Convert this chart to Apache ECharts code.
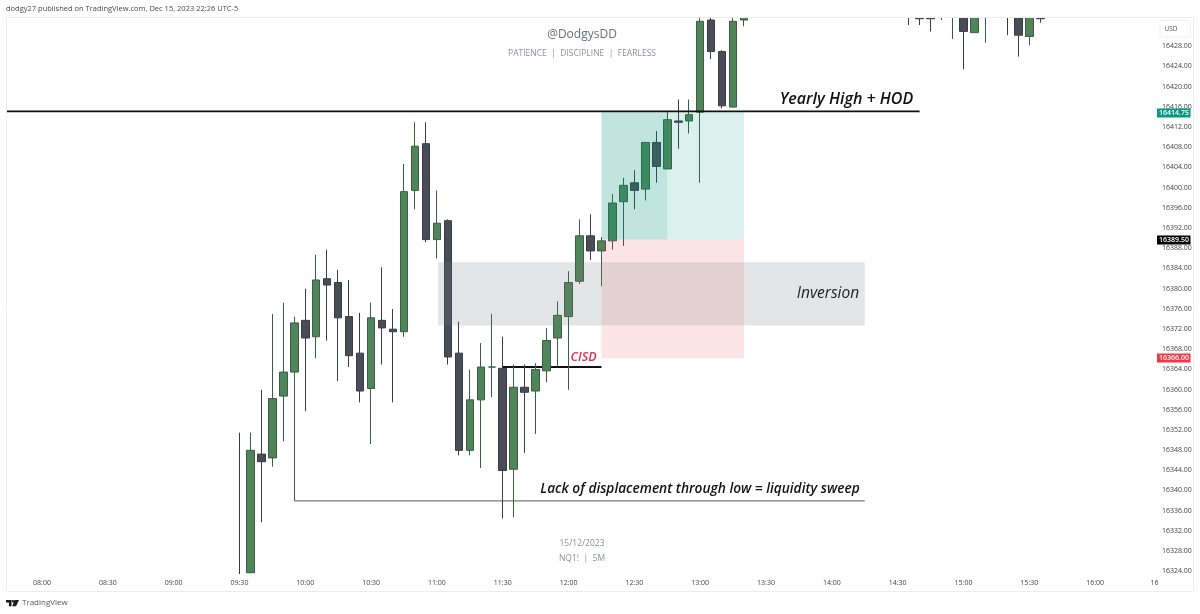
<!DOCTYPE html>
<html><head><meta charset="utf-8">
<script src="https://cdn.jsdelivr.net/npm/echarts@6/dist/echarts.min.js"></script>
<style>html,body{margin:0;padding:0;background:#fff}#c{width:1200px;height:614px}</style></head>
<body><div id="c"></div>
<script>
// Bars: first visible bar is 09:30 (index 21), null = bar off the top of the pane
const firstBar = 21;
const opens = [16321,16323.5,16347,16346.25,16358.5,16363.25,16373.5,16370.25,16381.75,16381,16374.25,16367,16360,16373.5,16371.75,16371.25,16399.25,16408.5,16389.5,16393.25,16367,16347.75,16357.75,16364.25,16364,16344,16360.25,16359.5,16363.5,16370,16374.25,16381.25,16390.25,16387.25,16389.25,16397,16400.75,16399.5,16408.75,16403.5,16413,16413,16414.75,16433,16426.75,16415.75,16433,null,null,null,null,null,null,null,null,null,null,null,null,null,null,16437,16433.5,16433.5,16437,16437,16437,16430.5,16437,null,16437,16437,16429.75,16433.5];
const closes = [16321,16347.75,16345.5,16358,16363.25,16373,16370,16381.5,16380.5,16374,16366.5,16359.5,16374,16372,16371.25,16399,16408,16389.5,16392.75,16366.25,16347.75,16357.75,16364.25,16364.25,16343.75,16360.25,16359.25,16363.75,16369.5,16374.5,16381,16390.25,16387.25,16389.25,16396.75,16400.25,16399.25,16408.75,16404,16413.25,16412.75,16414.25,16432.75,16426.75,16416,16432.75,16435,null,null,null,null,null,null,null,null,null,null,null,null,null,null,16437,16433.25,16433.25,16437,16437,16430.75,16437,16437,null,16437,16430,16437,16433.25];
const lows = [16321,16323.5,16333.5,16344.5,16349.5,16337.75,16355.5,16366,16369.5,16361.5,16364.25,16357.25,16349,16364.75,16357.25,16370.25,16395.5,16389,16385.75,16364.75,16346.75,16346.75,16344.25,16358.25,16334.25,16334.5,16347.25,16351,16361.25,16364.5,16359.75,16380.75,16385.5,16380.25,16387.5,16388.25,16395.5,16397.25,16400.75,16403.5,16407.5,16410.5,16400.75,16425.25,16415.5,16415.75,16431.75,null,null,null,null,null,null,null,null,null,null,null,null,null,null,16432,16432,16430.75,16433,16429.25,16423.25,16430.5,16428.5,null,16430,16425.75,16428,16432.5];
const highs = [16351.25,16351.25,16359.75,16374.75,16377,16374.25,16379.75,16386.5,16387.5,16383.5,16381.5,16375,16377,16384,16375.75,16404.5,16412.75,16412.75,16399.25,16393.5,16373.25,16363.75,16369,16374.75,16370.25,16364.75,16364.75,16365,16372,16377.25,16383.25,16393.5,16394.5,16390,16398.5,16401.75,16403.25,16408.75,16411,16414.75,16417.25,16417.25,16436,16436,16427,16436,16436,null,null,null,null,null,null,null,null,null,null,null,null,null,null,16437,16436,16436,16437,16437,16437,16437,16437,null,16437,16437,16437,16436];

// Price axis labels
const priceTicks = [16324,16328,16332,16336,16340,16344,16348,16352,16356,16360,16364,16368,16372,16376,16380,16384,16388,16392,16396,16400,16404,16408,16412,16416,16420,16424,16428];
// Time axis: 5-minute bars starting 07:45
const barCount = 105;
const categories = [];
for (let i = 0; i < barCount; i++) {
  const m = 7 * 60 + 45 + i * 5;
  categories.push(String(Math.floor(m / 60)).padStart(2, '0') + ':' + String(m % 60).padStart(2, '0'));
}
// Levels (price)
const yearlyHigh = 16414.9, tpLevel = 16414.75, entryLevel = 16389.5, stopLevel = 16366;
const inversionTop = 16385, inversionBottom = 16372.5;
const cisdLevel = 16364.25, sweepLevel = 16337.75;
// Level extents, in bar indexes
const posStart = 54, posMid = 60, posEnd = 67, invStart = 39.1, invEnd = 78;
const yearlyStart = -0.28, yearlyEnd = 83, cisdStart = 45, cisdEnd = 54, sweepStart = 26, sweepEnd = 78;

const candleData = categories.map((_, i) => {
  const k = i - firstBar;
  if (k < 0 || k >= opens.length || opens[k] === null) return ['-', '-', '-', '-'];
  return [opens[k], closes[k], lows[k], highs[k]];
});

const UI = '"Open Sans", sans-serif';
function lineSeries(x0, x1, y, color, width, z) {
  return { type: 'line', xAxisIndex: 1, yAxisIndex: 0, data: [[x0, y], [x1, y]], showSymbol: false, symbol: 'none',
    silent: true, animation: false, z: z, lineStyle: { color: color, width: width } };
}
function txt(x, y, text, style) {
  return { type: 'text', x: x, y: y, z: 20, silent: true,
    style: Object.assign({ text: text, fontFamily: UI, fill: '#6f7380', textAlign: 'center', textVerticalAlign: 'middle' }, style) };
}
function badge(y, text, bg) {
  return { type: 'group', z: 30, silent: true, children: [
    { type: 'rect', z: 30, shape: { x: 1157, y: y - 4.5, width: 33.5, height: 9 }, style: { fill: bg } },
    { type: 'text', z: 31, x: 1174, y: y, style: { text: text, fontFamily: UI, fontSize: 7, fontWeight: 600, fill: '#fff', textAlign: 'center', textVerticalAlign: 'middle' } }
  ]};
}

const chart = echarts.init(document.getElementById('c'), null, { renderer: 'canvas' });
chart.setOption({
  animation: false,
  backgroundColor: '#fff',
  grid: { left: 3.6, right: 44.55, top: 17.5, bottom: 40 },
  xAxis: [
    { type: 'category', z: 10, data: categories, boundaryGap: true, axisLine: { show: false }, axisTick: { show: false }, splitLine: { show: false },
      axisLabel: { fontFamily: UI, fontSize: 7, color: '#444', margin: 5.5,
        interval: (i, v) => v.endsWith(':00') || v.endsWith(':30') } },
    { type: 'value', min: -0.5, max: barCount - 0.5, show: false, splitLine: { show: false } }
  ],
  yAxis: [{ type: 'value', z: 10, position: 'right', min: 16323.25, max: 16433.5, scale: true,
    axisLine: { show: false }, axisTick: { show: false }, splitLine: { show: false },
    axisLabel: { customValues: priceTicks, margin: 6.5,
      rich: { p: { fontFamily: UI, fontSize: 7, color: '#444', padding: [2, 0, 0, 0] } },
      formatter: v => '{p|' + v.toFixed(2) + '}' } }],
  series: [
    { type: 'candlestick', name: 'NQ1!', data: candleData, barWidth: 8, clip: true, z: 2,
      itemStyle: { color: '#4f8558', color0: '#4a4c57', borderColor: '#3b5c45', borderColor0: '#3a3c45', borderWidth: 1 } },
    { type: 'line', xAxisIndex: 1, yAxisIndex: 0, data: [], silent: true, z: 3,
      markArea: { silent: true, z: 3, animation: false, data: [
        [{ coord: [posStart, tpLevel], itemStyle: { color: 'rgba(8,153,129,0.26)' } }, { coord: [posMid, entryLevel] }],
        [{ coord: [posMid, tpLevel], itemStyle: { color: 'rgba(8,153,129,0.15)' } }, { coord: [posEnd, entryLevel] }],
        [{ coord: [posStart, entryLevel], itemStyle: { color: 'rgba(242,54,69,0.13)' } }, { coord: [posEnd, stopLevel] }],
        [{ coord: [invStart, inversionTop], itemStyle: { color: 'rgba(120,123,134,0.2)' } }, { coord: [invEnd, inversionBottom] }]
      ] } },
    lineSeries(yearlyStart, yearlyEnd, yearlyHigh, '#111', 1.6, 6),
    lineSeries(cisdStart, cisdEnd, cisdLevel, '#111', 2, 1.5),
    lineSeries(sweepStart, sweepEnd, sweepLevel, '#777', 1.2, 1)
  ],
  graphic: { elements: [
    // pane edges: marks beyond the visible price range stop here
    { type: 'rect', z: 8, silent: true, shape: { x: 0, y: 0, width: 1200, height: 17.5 }, style: { fill: '#fff' } },
    { type: 'rect', z: 8, silent: true, shape: { x: 0, y: 574, width: 1156, height: 20 }, style: { fill: '#fff' } },
    { type: 'rect', z: 9, silent: true, shape: { x: 6.5, y: 17.5, width: 1187, height: 574 }, style: { fill: 'none', stroke: '#ececec', lineWidth: 1 } },
    txt(6, 9, 'dodgy27 published on TradingView.com, Dec 15, 2023 22:26 UTC-5', { textAlign: 'left', fontSize: 7.5, fill: '#4a4a4a' }),
    txt(582, 35, '@DodgysDD', { fontSize: 12, fill: '#6b6f7c' }),
    txt(582, 53.5, 'PATIENCE  |  DISCIPLINE  |  FEARLESS', { fontSize: 8.5, fill: '#8d909b' }),
    txt(582, 544, '15/12/2023', { fontSize: 8.5, fill: '#8d909b' }),
    txt(582, 559, 'NQ1!  |  5M', { fontSize: 8.5, fill: '#8d909b' }),
    txt(846.5, 99, 'Yearly High + HOD', { fontSize: 16, fontStyle: 'italic', fontWeight: 600, fill: '#111' }),
    txt(828, 294, 'Inversion', { fontSize: 15.5, fontStyle: 'italic', fill: '#222' }),
    txt(583.5, 357, 'CISD', { fontSize: 12.5, fontStyle: 'italic', fontWeight: 600, fill: '#e02e4c' }),
    txt(700, 489, 'Lack of displacement through low = liquidity sweep', { fontSize: 13.7, fontStyle: 'italic', fontWeight: 600, fill: '#111' }),
    txt(1154.5, 583, '16', { fontSize: 7, fill: '#444' }),
    { type: 'rect', z: 20, silent: true, shape: { x: 1160, y: 20.5, width: 30.5, height: 16.5, r: 2 }, style: { fill: '#fff', stroke: '#efefef', lineWidth: 1 } },
    txt(1171, 29, 'USD', { fontSize: 6.5, fill: '#555', z: 21 }),
    badge(113, '16414.75', '#089981'),
    badge(240, '16389.50', '#000'),
    badge(358, '16366.00', '#f23645'),
    { type: 'polygon', z: 20, silent: true, shape: { points: [[6,600],[11.5,600],[11.5,606.2],[8.9,606.2],[8.9,602.6],[6,602.6]] }, style: { fill: '#1a1a1a' } },
    { type: 'circle', z: 20, silent: true, shape: { cx: 13, cy: 601.3, r: 1.2 }, style: { fill: '#1a1a1a' } },
    { type: 'polygon', z: 20, silent: true, shape: { points: [[12.2,606.2],[14.6,600],[19,600],[16,606.2]] }, style: { fill: '#1a1a1a' } },
    txt(22, 603, 'TradingView', { textAlign: 'left', fontSize: 8, fill: '#555' })
  ] }
});
</script></body></html>
